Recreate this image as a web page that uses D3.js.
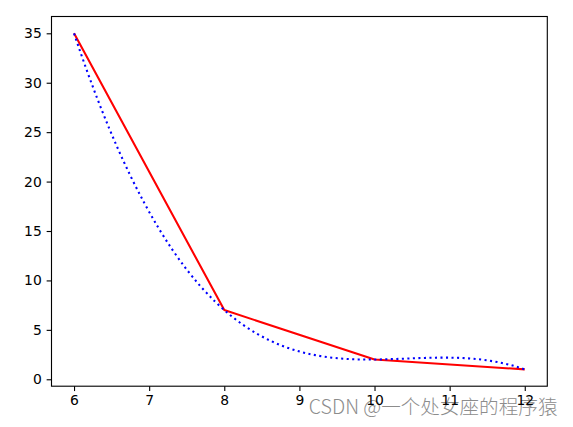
<!DOCTYPE html>
<html>
<head>
<meta charset="utf-8">
<script src="https://cdn.jsdelivr.net/npm/d3@7"></script>
<style>
  html, body { margin: 0; padding: 0; background: #fff; }
  svg { display: block; font-family: "DejaVu Sans", sans-serif; }
</style>
</head>
<body>
<div id="chart"></div>
<script>
'use strict';

var xValues = [6, 8, 10, 12];
var yValues = [35, 7, 2, 1];
var xTicks = [6, 7, 8, 9, 10, 11, 12];
var yTicks = [0, 5, 10, 15, 20, 25, 30, 35];
var watermark = 'CSDN @一个处女座的程序猿';

var width = 573;
var height = 427;
var margin = {top: 16.5, right: 25.7, bottom: 40.8, left: 51.5};
var innerW = width - margin.left - margin.right;
var innerH = height - margin.top - margin.bottom;

// smooth curve: one cubic through four equally spaced points (like scipy's spline)
function curveCubicThrough(context) {
	var pts;
	return {
		areaStart: function(){},
		areaEnd: function(){},
		lineStart: function(){ pts = []; },
		point: function(x, y){ pts.push([+x, +y]); },
		lineEnd: function(){
			var p = pts;
			context.moveTo(p[0][0], p[0][1]);
			if (p.length === 4) {
				var c1 = [0, 1].map(function(k){ return (-5*p[0][k] + 18*p[1][k] - 9*p[2][k] + 2*p[3][k]) / 6; });
				var c2 = [0, 1].map(function(k){ return (2*p[0][k] - 9*p[1][k] + 18*p[2][k] - 5*p[3][k]) / 6; });
				context.bezierCurveTo(c1[0], c1[1], c2[0], c2[1], p[3][0], p[3][1]);
			} else {
				p.slice(1).forEach(function(q){ context.lineTo(q[0], q[1]); });
			}
		}
	};
}

var data = xValues.map(function(x, i){ return {x: x, y: yValues[i]}; });

var x = d3.scaleLinear().domain([5.7, 12.3]).range([0, innerW]);
var y = d3.scaleLinear().domain([-0.7, 36.7]).range([innerH, 0]);

var root = d3.select('#chart').append('svg')
	.attr('width', width)
	.attr('height', height);

// watermark sits under the tick labels
root.append('text')
	.attr('x', 557.5)
	.attr('y', 414)
	.attr('text-anchor', 'end')
	.attr('fill', '#8c8c8c')
	.style('font-family', '"Noto Sans CJK SC", "Noto Sans", sans-serif')
	.style('font-weight', 300)
	.style('font-size', '19.6px')
	.text(watermark);

var svg = root.append('g')
	.attr('transform', 'translate(' + margin.left + ',' + margin.top + ')');

var line = d3.line().x(function(d){ return x(d.x); }).y(function(d){ return y(d.y); });

svg.append('defs').append('clipPath').attr('id', 'clip')
	.append('rect').attr('width', innerW).attr('height', innerH);

var plot = svg.append('g').attr('clip-path', 'url(#clip)');

plot.append('path')
	.datum(data)
	.attr('fill', 'none')
	.attr('stroke', 'red')
	.attr('stroke-width', 2.08)
	.attr('stroke-linejoin', 'round')
	.attr('d', line);

plot.append('path')
	.datum(data)
	.attr('fill', 'none')
	.attr('stroke', 'blue')
	.attr('stroke-width', 2.08)
	.attr('stroke-dasharray', '2.08,3.44')
	.attr('d', line.curve(curveCubicThrough));

var xAxis = svg.append('g')
	.attr('transform', 'translate(0,' + innerH + ')')
	.call(d3.axisBottom(x).tickValues(xTicks).tickSize(4.86).tickPadding(4.2).tickFormat(d3.format('d')));

var yAxis = svg.append('g')
	.call(d3.axisLeft(y).tickValues(yTicks).tickSize(4.86).tickPadding(4.9).tickFormat(d3.format('d')));

[xAxis, yAxis].forEach(function(a){
	a.select('.domain').remove();
	a.selectAll('line').attr('stroke', '#000').attr('stroke-width', 1.11);
	a.selectAll('text').attr('fill', '#000').style('font-size', '13.9px').style('font-family', '"DejaVu Sans", sans-serif');
});

svg.append('rect')
	.attr('width', innerW)
	.attr('height', innerH)
	.attr('fill', 'none')
	.attr('stroke', '#000')
	.attr('stroke-width', 1.11);
</script>
</body>
</html>
